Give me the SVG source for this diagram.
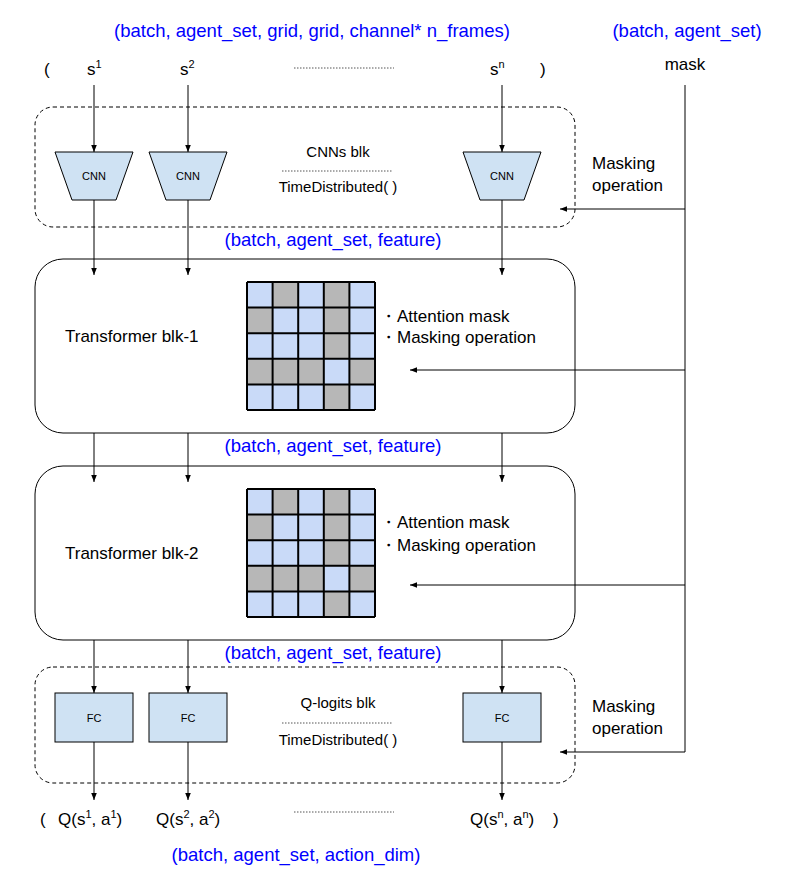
<svg xmlns="http://www.w3.org/2000/svg" width="788" height="889" viewBox="0 0 788 889">
<style>
text{font-family:"Liberation Sans",Arial,sans-serif;fill:#000}
.b{fill:#0000ff;font-size:18.5px}
.t{font-size:17px}
.s{font-size:11px}
.m{font-size:15px}
.ln{stroke:#000;stroke-width:1;fill:none}
.dash{stroke:#000;stroke-width:1;fill:none;stroke-dasharray:4 3}
.dot{stroke:#555;stroke-width:1;stroke-dasharray:1.5 1.5}
.blue{fill:#cfe2f3;stroke:#000;stroke-width:1}
.cl{fill:#c9daf8}.cg{fill:#b7b7b7}
.g line{stroke:#000;stroke-width:2}
</style>
<defs>
<marker id="ah" viewBox="0 0 10 10" refX="10" refY="5" markerWidth="7" markerHeight="7" orient="auto"><path d="M0,1 L10,5 L0,9 z" fill="#000"/></marker>
<g id="grid">
<rect x="0" y="0" width="128" height="128" class="cl"/>
<rect x="25.6" y="0" width="25.6" height="25.6" class="cg"/><rect x="76.8" y="0" width="25.6" height="25.6" class="cg"/>
<rect x="0" y="25.6" width="25.6" height="25.6" class="cg"/><rect x="76.8" y="25.6" width="25.6" height="25.6" class="cg"/>
<rect x="76.8" y="51.2" width="25.6" height="25.6" class="cg"/>
<rect x="0" y="76.8" width="76.8" height="25.6" class="cg"/><rect x="102.4" y="76.8" width="25.6" height="25.6" class="cg"/>
<rect x="76.8" y="102.4" width="25.6" height="25.6" class="cg"/>
<g class="g">
<line x1="0" y1="0" x2="128" y2="0"/><line x1="0" y1="25.6" x2="128" y2="25.6"/><line x1="0" y1="51.2" x2="128" y2="51.2"/><line x1="0" y1="76.8" x2="128" y2="76.8"/><line x1="0" y1="102.4" x2="128" y2="102.4"/><line x1="0" y1="128" x2="128" y2="128"/>
<line x1="0" y1="0" x2="0" y2="128"/><line x1="25.6" y1="0" x2="25.6" y2="128"/><line x1="51.2" y1="0" x2="51.2" y2="128"/><line x1="76.8" y1="0" x2="76.8" y2="128"/><line x1="102.4" y1="0" x2="102.4" y2="128"/><line x1="128" y1="0" x2="128" y2="128"/>
</g>
</g>
</defs>

<g id="labels">
<text class="b" x="312" y="37" text-anchor="middle">(batch, agent_set, grid, grid, channel* n_frames)</text>
<text class="b" x="687" y="37" text-anchor="middle">(batch, agent_set)</text>
<text class="t" x="44" y="75">(</text>
<text class="t" x="540" y="75">)</text>
<text class="t" x="87" y="75">s<tspan font-size="11" dy="-7">1</tspan></text>
<text class="t" x="180" y="75">s<tspan font-size="11" dy="-7">2</tspan></text>
<text class="t" x="490" y="75">s<tspan font-size="11" dy="-7">n</tspan></text>
<line class="dot" x1="294" y1="68" x2="394" y2="68"/>
<text class="t" x="685" y="70" text-anchor="middle">mask</text>
<text class="b" x="333" y="246" text-anchor="middle">(batch, agent_set, feature)</text>
<text class="b" x="333" y="452" text-anchor="middle">(batch, agent_set, feature)</text>
<text class="b" x="333" y="659" text-anchor="middle">(batch, agent_set, feature)</text>
<text class="b" x="296" y="861" text-anchor="middle">(batch, agent_set, action_dim)</text>
<text class="t" x="40" y="825">(</text>
<text class="t" x="553" y="825">)</text>
<text class="t" x="58" y="825">Q(s<tspan font-size="11" dy="-7">1</tspan><tspan dy="7">, a</tspan><tspan font-size="11" dy="-7">1</tspan><tspan dy="7">)</tspan></text>
<text class="t" x="156" y="825">Q(s<tspan font-size="11" dy="-7">2</tspan><tspan dy="7">, a</tspan><tspan font-size="11" dy="-7">2</tspan><tspan dy="7">)</tspan></text>
<text class="t" x="470" y="825">Q(s<tspan font-size="11" dy="-7">n</tspan><tspan dy="7">, a</tspan><tspan font-size="11" dy="-7">n</tspan><tspan dy="7">)</tspan></text>
<line class="dot" x1="294" y1="812" x2="394" y2="812"/>
<text class="t" x="592" y="169">Masking</text>
<text class="t" x="592" y="191">operation</text>
<text class="t" x="592" y="712">Masking</text>
<text class="t" x="592" y="734">operation</text>
</g>

<g id="cnn-blk">
<rect class="dash" x="35" y="107" width="540" height="120" rx="18"/>
<text class="m" x="338" y="157" text-anchor="middle">CNNs blk</text>
<line class="dot" x1="282" y1="171" x2="392" y2="171"/>
<text class="m" x="338" y="192" text-anchor="middle">TimeDistributed( )</text>
</g>
<g id="cnn1"><polygon class="blue" points="55,152 133,152 116,200 72,200"/><text class="s" x="94" y="180" text-anchor="middle">CNN</text></g>
<g id="cnn2"><polygon class="blue" points="149,152 227,152 210,200 166,200"/><text class="s" x="188" y="180" text-anchor="middle">CNN</text></g>
<g id="cnn3"><polygon class="blue" points="463,152 541,152 524,200 480,200"/><text class="s" x="502" y="180" text-anchor="middle">CNN</text></g>

<g id="tf1">
<rect class="ln" x="35" y="259" width="540" height="174" rx="28"/>
<text class="t" x="65" y="342">Transformer blk-1</text>
<use href="#grid" x="247" y="282"/>
<text class="t" x="380" y="322">・Attention mask</text>
<text class="t" x="380" y="343">・Masking operation</text>
</g>
<g id="tf2">
<rect class="ln" x="35" y="466" width="540" height="174" rx="28"/>
<text class="t" x="65" y="559">Transformer blk-2</text>
<use href="#grid" x="247" y="489"/>
<text class="t" x="380" y="528">・Attention mask</text>
<text class="t" x="380" y="551">・Masking operation</text>
</g>

<g id="q-blk">
<rect class="dash" x="35" y="667" width="540" height="116" rx="18"/>
<text class="m" x="338" y="708" text-anchor="middle">Q-logits blk</text>
<line class="dot" x1="282" y1="723" x2="392" y2="723"/>
<text class="m" x="338" y="745" text-anchor="middle">TimeDistributed( )</text>
</g>
<g id="fc1"><rect class="blue" x="55" y="693" width="78" height="49"/><text class="s" x="94" y="722" text-anchor="middle">FC</text></g>
<g id="fc2"><rect class="blue" x="149" y="693" width="78" height="49"/><text class="s" x="188" y="722" text-anchor="middle">FC</text></g>
<g id="fc3"><rect class="blue" x="463" y="693" width="78" height="49"/><text class="s" x="502" y="722" text-anchor="middle">FC</text></g>

<g id="connectors" class="ln" marker-end="url(#ah)">
<path d="M94,85 V152"/><path d="M188,85 V152"/><path d="M502,85 V152"/>
<path d="M94,200 V275"/><path d="M188,200 V275"/><path d="M502,200 V275"/>
<path d="M94,433 V482"/><path d="M188,433 V482"/><path d="M502,433 V482"/>
<path d="M94,640 V693"/><path d="M188,640 V693"/><path d="M502,640 V693"/>
<path d="M94,742 V800"/><path d="M188,742 V800"/><path d="M502,742 V800"/>
<path d="M685,209 H560"/><path d="M685,370 H410"/><path d="M685,585 H410"/><path d="M685,752 H560"/>
<path d="M685,85 V752" marker-end="none"/>
</g>
</svg>
